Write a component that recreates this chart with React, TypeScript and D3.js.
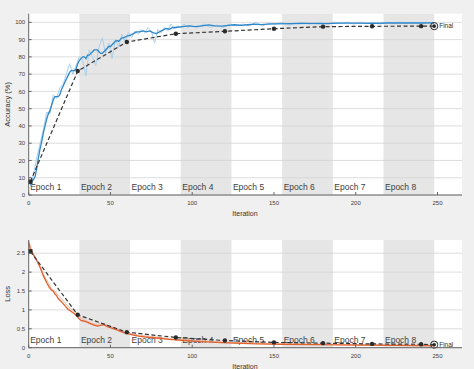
import React from 'react';
import * as d3 from 'd3';

const W = 474;
const H = 369;

// epochs / ticks
const epochLabels = ['Epoch 1', 'Epoch 2', 'Epoch 3', 'Epoch 4', 'Epoch 5', 'Epoch 6', 'Epoch 7', 'Epoch 8'];
const itersPerEpoch = 31;
const xTicks = [0, 50, 100, 150, 200, 250];
const accTicks = [0, 10, 20, 30, 40, 50, 60, 70, 80, 90, 100];
const lossTicks = [0, 0.5, 1, 1.5, 2, 2.5];
const lossTickLabels = ['0', '0.5', '1', '1.5', '2', '2.5'];

// validation (every 30 iterations + final)
const valIter = [1, 30, 60, 90, 120, 150, 180, 210, 240, 248];
const valAcc = [7.7, 71.8, 88.6, 93.4, 94.8, 96.3, 97.5, 97.7, 97.8, 97.8];
const valLoss = [2.55, 0.87, 0.41, 0.27, 0.19, 0.14, 0.12, 0.1, 0.09, 0.08];

// training accuracy, smoothed
const accSmoothIter = [1, 2, 3, 4, 5, 6, 7, 8, 9, 10, 11, 12, 13, 14, 15, 16, 17, 18, 19, 20, 21, 22, 23, 24, 25, 26, 27, 28, 29, 30,
  31, 32, 33, 34, 35, 36, 37, 38, 39, 40, 41, 42, 43, 44, 45, 46, 47, 48, 49, 50, 51, 52, 53, 54, 55, 56, 57, 58, 59, 60,
  62, 64, 66, 68, 70, 72, 74, 76, 78, 80, 82, 84, 86, 88, 90, 94, 98, 102, 106, 110, 114, 118, 122, 126, 130, 134, 138, 142, 146, 150,
  160, 170, 180, 190, 200, 210, 220, 230, 240, 248];
const accSmooth = [6, 8, 9, 11, 16, 22, 27, 31, 36, 40, 44, 47, 49, 52, 55, 57, 57, 57, 58, 61, 63, 65, 67, 69, 71, 72, 72, 72, 73, 76,
  78, 79, 80, 80, 79, 81, 81, 82, 83, 84, 84, 84, 83, 82, 82, 83, 84, 85, 86, 86, 87, 88, 89, 89.5, 89, 90, 91, 91, 91.5, 92,
  92.5, 93.5, 94.5, 94.5, 95, 94.5, 95, 94, 93.5, 94.5, 95.5, 96.5, 96, 97, 97, 97.5, 98, 97.5, 98, 98.5, 98, 97.8, 98.2, 98.6, 98.2, 98.6, 99, 98.7, 99, 99.1,
  99.3, 99.4, 99.3, 99.5, 99.5, 99.4, 99.6, 99.6, 99.6, 99.7];

// training accuracy, raw
const accRawIter = [1, 3, 5, 7, 9, 11, 13, 15, 17, 19, 21, 23, 25, 27, 29, 31, 33, 35, 37, 39, 41, 43, 45, 47, 49,
  51, 53, 55, 57, 59, 61, 63, 65, 67, 69, 71, 73, 75, 77, 79, 81, 83, 85, 87, 89, 91, 93, 95, 97, 99,
  103, 107, 111, 115, 119, 123, 127, 131, 135, 139, 143, 147, 151, 155, 159, 163, 167, 171, 175, 179,
  183, 187, 191, 195, 199, 203, 207, 211, 215, 219, 223, 227, 231, 235, 239, 243, 248];
const accRaw = [5, 12, 22, 30, 38, 48, 47, 58, 56, 62, 64, 70, 76, 70, 75, 80, 78, 69, 84, 80, 75, 86, 91, 82, 88,
  79, 90, 86, 93, 89, 94, 91, 95, 93, 96, 94, 97, 95, 88, 96, 94, 97, 95, 99, 96, 98, 97, 99, 97, 98,
  97, 99, 97, 98.5, 97, 99, 98, 99, 98, 100, 98, 99.5, 99, 100, 98.5, 99.5, 100, 99, 99.5, 100,
  99, 100, 99.5, 100, 99, 100, 99.5, 100, 99, 100, 99.5, 100, 99.5, 100, 99.5, 100, 99.5];

// training loss, smoothed
const lossSmoothIter = [0, 1, 3, 5, 7, 9, 11, 13, 14, 15, 16, 17, 18, 19, 20, 22, 24, 26, 28, 29, 31, 32, 34, 36, 38, 40,
  42, 44, 46, 48, 50, 52, 54, 56, 58, 60, 64, 68, 74, 80, 86, 95, 105, 115, 125, 140, 155, 175, 200, 225, 248];
const lossSmooth = [2.78, 2.6, 2.45, 2.3, 2.12, 1.9, 1.72, 1.57, 1.52, 1.5, 1.42, 1.38, 1.3, 1.26, 1.22, 1.12, 1.02, 0.96, 0.9, 0.86, 0.76, 0.72, 0.7, 0.67, 0.63, 0.6,
  0.57, 0.59, 0.61, 0.56, 0.53, 0.5, 0.47, 0.43, 0.4, 0.38, 0.33, 0.3, 0.27, 0.25, 0.22, 0.19, 0.16, 0.14, 0.12, 0.1, 0.09, 0.08, 0.07, 0.06, 0.05];

// training loss, raw
const lossRawIter = [0, 2, 4, 6, 8, 10, 12, 14, 16, 18, 20, 22, 24, 26, 28, 30, 32, 34, 36, 38, 40, 42, 44, 46, 48, 50,
  52, 54, 56, 58, 60, 64, 68, 72, 76, 80, 86, 92, 100, 110, 120, 135, 150, 170, 190, 210, 230, 248];
const lossRaw = [2.85, 2.55, 2.4, 2.25, 2.05, 1.85, 1.72, 1.55, 1.5, 1.38, 1.3, 1.2, 1.1, 1.02, 0.95, 0.9, 0.78, 0.74, 0.7, 0.66, 0.63, 0.62, 0.63, 0.64, 0.6, 0.56,
  0.53, 0.5, 0.46, 0.43, 0.41, 0.36, 0.33, 0.31, 0.29, 0.27, 0.24, 0.22, 0.2, 0.17, 0.15, 0.13, 0.11, 0.1, 0.09, 0.08, 0.07, 0.06];

const FONT = '"Liberation Sans", Arial, sans-serif';
const x = d3.scaleLinear().domain([0, 265]).range([28.7, 462]);

type PanelProps = {
  top: number; bottom: number; yMax: number;
  ticks: number[]; tickLabels: string[]; yLabel: string;
  rawIter: number[]; raw: number[]; smoothIter: number[]; smooth: number[]; val: number[];
  rawColor: string; color: string;
};

function Panel(p: PanelProps) {
  const y = d3.scaleLinear().domain([0, p.yMax]).range([p.bottom, p.top]);
  const line = d3.line<[number, number]>().x(d => x(d[0])).y(d => y(d[1]));
  const rawPts = p.rawIter.map((it, i) => [it, p.raw[i]] as [number, number]);
  const smPts = p.smoothIter.map((it, i) => [it, p.smooth[i]] as [number, number]);
  const valPts = valIter.map((it, i) => [it, p.val[i]] as [number, number]);
  const [x0, x1] = x.range();
  const last = valPts[valPts.length - 1];
  return (
    <g>
      <rect x={x0} y={p.top} width={x1 - x0} height={p.bottom - p.top} fill="#ffffff" />
      {epochLabels.map((lab, i) => i % 2 === 1 ? (
        <rect key={lab} x={x(i * itersPerEpoch)} y={p.top} width={x((i + 1) * itersPerEpoch) - x(i * itersPerEpoch)}
          height={p.bottom - p.top} fill="#e6e6e6" />
      ) : null)}
      {p.ticks.map(t => (
        <line key={t} x1={x0} x2={x1} y1={y(t)} y2={y(t)} stroke="#d4d4d4" strokeWidth={0.8} />
      ))}
      {epochLabels.map((lab, i) => (
        <text key={lab} x={x(i * itersPerEpoch) + 1.5} y={p.bottom - 5} fontSize={8.5} fill="#404040"
          fontFamily={FONT}>{lab}</text>
      ))}
      <path d={line(rawPts) || ''} fill="none" stroke={p.rawColor} strokeWidth={1} />
      <path d={line(smPts) || ''} fill="none" stroke={p.color} strokeWidth={1.3} />
      <path d={line(valPts) || ''} fill="none" stroke="#333333" strokeWidth={1.2} strokeDasharray="4,2.5" />
      {valPts.slice(1, -1).map(d => (
        <circle key={d[0]} cx={x(d[0])} cy={y(d[1])} r={2.2} fill="#2a2a2a" />
      ))}
      <rect x={x(valPts[0][0]) - 2.2} y={y(valPts[0][1]) - 2.2} width={4.4} height={4.4} fill="#2a2a2a" />
      <circle cx={x(last[0])} cy={y(last[1])} r={3.6} fill="none" stroke="#2a2a2a" strokeWidth={1} />
      <circle cx={x(last[0])} cy={y(last[1])} r={1.8} fill="#2a2a2a" />
      <text x={x(last[0]) + 5} y={y(last[1])} dy="0.35em" fontSize={6.5} fill="#333" fontFamily={FONT}>Final</text>
      <line x1={x0} x2={x1} y1={p.bottom} y2={p.bottom} stroke="#666" strokeWidth={1} />
      <line x1={x0} x2={x0} y1={p.top} y2={p.bottom} stroke="#666" strokeWidth={1} />
      {xTicks.map(t => (
        <g key={t}>
          <line x1={x(t)} x2={x(t)} y1={p.bottom} y2={p.bottom - 3} stroke="#666" />
          <text x={x(t)} y={p.bottom + 10} textAnchor="middle" fontSize={6} fill="#404040" fontFamily={FONT}>{t}</text>
        </g>
      ))}
      {p.ticks.map((t, i) => (
        <g key={t}>
          <line x1={x0} x2={x0 + 3} y1={y(t)} y2={y(t)} stroke="#666" />
          <text x={x0 - 3.5} y={y(t)} dy="0.35em" textAnchor="end" fontSize={6} fill="#404040" fontFamily={FONT}>{p.tickLabels[i]}</text>
        </g>
      ))}
      <text x={245} y={p.bottom + 21} textAnchor="middle" fontSize={7} fill="#333" fontFamily={FONT}>Iteration</text>
      <text transform={`translate(10,${(p.top + p.bottom) / 2}) rotate(-90)`} textAnchor="middle" fontSize={7.5}
        fill="#333" fontFamily={FONT}>{p.yLabel}</text>
    </g>
  );
}

export default function App() {
  return (
    <svg width={W} height={H} style={{ position: 'fixed', left: 0, top: 0, background: '#f0f0f0' }}>
      <Panel top={13.7} bottom={195} yMax={105} ticks={accTicks} tickLabels={accTicks.map(String)} yLabel="Accuracy (%)"
        rawIter={accRawIter} raw={accRaw} smoothIter={accSmoothIter} smooth={accSmooth} val={valAcc}
        rawColor="#a9d0ec" color="#2e86c8" />
      <Panel top={240} bottom={347.7} yMax={2.85} ticks={lossTicks} tickLabels={lossTickLabels} yLabel="Loss"
        rawIter={lossRawIter} raw={lossRaw} smoothIter={lossSmoothIter} smooth={lossSmooth} val={valLoss}
        rawColor="#f3b79c" color="#e0602e" />
    </svg>
  );
}
